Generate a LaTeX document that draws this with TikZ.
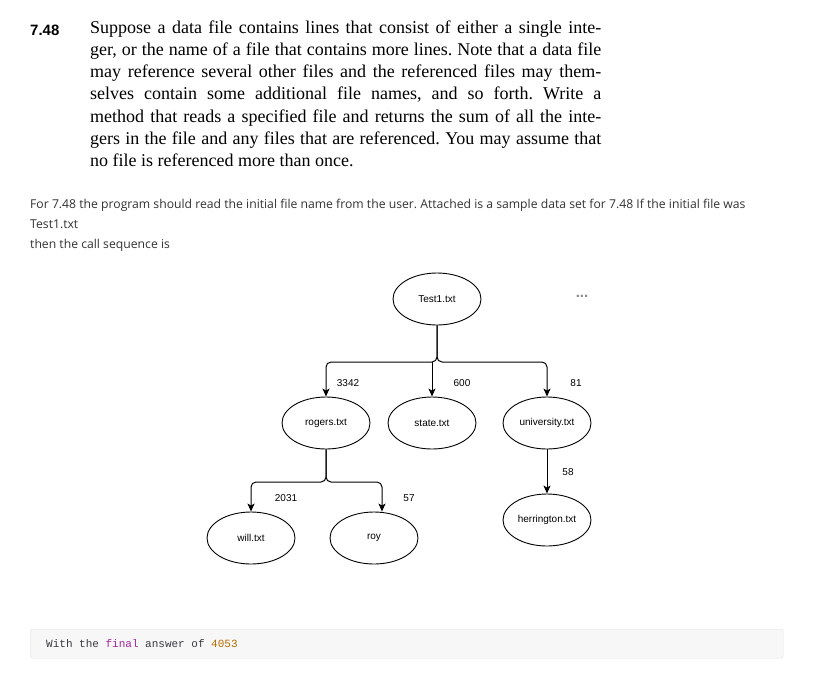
\documentclass[tikz,border=0pt]{standalone}
\usepackage{fontspec}
\setmainfont{Liberation Serif}
\newfontfamily\arialfont{Liberation Sans}
\newfontfamily\opensans{Open Sans}
\newfontfamily\codefont{Liberation Mono}
\usetikzlibrary{arrows.meta,shapes.geometric}
\definecolor{QText}{HTML}{333333}
\definecolor{CBack}{HTML}{F7F7F7}
\definecolor{CEdge}{HTML}{E3E3E3}
\definecolor{CPurple}{HTML}{A626A4}
\definecolor{COrange}{HTML}{B76B01}
\definecolor{CPlain}{HTML}{383A42}
\definecolor{DotGray}{HTML}{8A8A8A}
\frenchspacing

\begin{document}
\begin{tikzpicture}[x=1pt,y=-1pt,
  every node/.style={font=\arialfont\fontsize{10}{12}\selectfont},
  file/.style={draw,ellipse,inner sep=0pt,minimum width=88pt,
    minimum height=52pt,line width=0.9pt},
  count/.style={inner sep=0pt},
  arr/.style={-{Stealth[length=8pt,width=7pt,inset=2pt]},line width=1pt,
    rounded corners=5pt}
]
  \fill[white] (0,0) rectangle (822,673);
  \useasboundingbox (0,0) rectangle (822,673);

  \node[font=\arialfont\bfseries\fontsize{15}{17}\selectfont,anchor=base west,
    inner sep=0pt] (num) at (30,35) {7.48};
  \node[font=\fontsize{18}{22.3}\selectfont,anchor=base west,inner sep=0pt,
    text width=511pt,align=justify] (task) at (90,33)
    {\tolerance=9999 Suppose a data file contains lines that consist of either a single inte-\linebreak
     ger, or the name of a file that contains more lines. Note that a data file\linebreak
     may reference several other files and the referenced files may them-\linebreak
     selves contain some additional file names, and so forth. Write a\linebreak
     method that reads a specified file and returns the sum of all the inte-\linebreak
     gers in the file and any files that are referenced. You may assume that\linebreak
     no file is referenced more than once.};

  \node[font=\opensans\fontsize{12.2}{20}\selectfont,text=QText,anchor=base west,
    inner sep=0pt,align=left] (note) at (30,248)
    {For 7.48 the program should read the initial file name from the user. Attached is a sample data set for 7.48 If the initial file was\\
     Test1.txt\\
     then the call sequence is};

  \node[file] (test1) at (437,299) {Test1.txt};
  \node[file] (rogers) at (326,423) {rogers.txt};
  \node[file] (state) at (432,423) {state.txt};
  \node[file] (univ) at (547,423) {university.txt};
  \node[file] (will) at (251,538) {will.txt};
  \node[file] (roy) at (374,538) {roy};
  \node[file] (herr) at (547,520) {herrington.txt};
  \node[text=DotGray,font=\arialfont\bfseries\fontsize{15}{17}\selectfont,
    anchor=base] (dots) at (582,297) {...};

  \coordinate (top) at (test1.south |- 0,362);
  \coordinate (mid) at (rogers.south |- 0,482);

  \draw[arr] (test1.south) -- (top) -| (rogers);
  \draw[arr] (test1.south) -- (top) -| (univ);
  \draw[arr] (state |- top) -- (state);
  \draw[arr] (rogers.south) -- (mid) -| (will);
  \draw[arr] (rogers.south) -- (mid) -| ([xshift=8pt]roy.north);
  \draw[arr] (univ) -- (herr);

  \node[count] (c3342) at (348,383) {3342};
  \node[count] (c600) at (462,383) {600};
  \node[count] (c81) at (576,383) {81};
  \node[count] (c2031) at (286,498) {2031};
  \node[count] (c57) at (409,498) {57};
  \node[count] (c58) at (568,472) {58};

  \node[draw=CEdge,fill=CBack,rounded corners=2pt,minimum width=753pt,
    minimum height=29pt,anchor=north west,inner sep=0pt] (codebox) at (30,629) {};
  \node[font=\codefont\fontsize{11}{13}\selectfont,text=CPlain,anchor=west,
    inner sep=0pt] (answer) at (46,643.5)
    {With the \textcolor{CPurple}{final} answer of \textcolor{COrange}{4053}};
\end{tikzpicture}
\end{document}
